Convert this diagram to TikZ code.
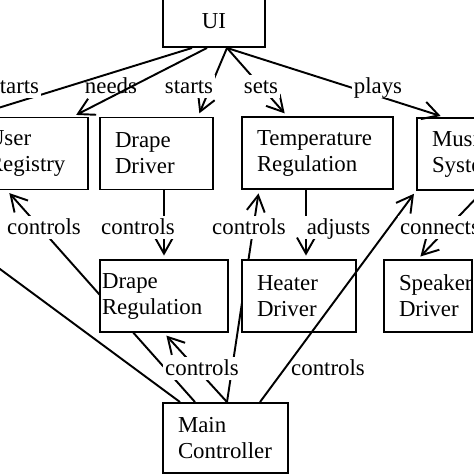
\documentclass[tikz,border=0pt]{standalone}
\usepackage{fontspec}
\setmainfont{Liberation Serif}
\usetikzlibrary{arrows.meta, positioning, calc, backgrounds}

\begin{document}
\begin{tikzpicture}[x=0.02cm, y=-0.02cm,
  every node/.style={font=\fontsize{13}{14.8}\selectfont},
  comp/.style={draw, line width=1.1pt, fill=white, minimum height=1.44cm, inner xsep=0.3cm, align=left},
  lbl/.style={fill=white, anchor=base, inner xsep=1pt, inner ysep=2.8pt, text height=0.75em, text depth=0pt},
  link/.style={line width=1.1pt, -{Straight Barb[length=0.32cm, width=0.36cm]}, shorten >=2pt}]
  \useasboundingbox (0,0) rectangle (474,474);
  \clip (0,0) rectangle (474,474);

  % UI
  \node[draw, line width=1.1pt, fill=white, minimum width=2.04cm, minimum height=1.02cm] (ui) at (214,21.5) {UI};

  % Components
  \node[comp, text width=1.8cm, inner xsep=0.2cm] (usrreg) at (33,153.5) {User\\Registry};
  \node[comp, text width=1.66cm] (drapedrv) at (156.5,153.5) {Drape\\Driver};
  \node[comp, text width=2.42cm] (tempreg) at (317.5,153) {Temperature\\Regulation};
  \node[comp, text width=1.5cm] (music) at (469.5,154) {Music\\System};
  \node[comp, text width=2.48cm, inner xsep=0.04cm] (drapereg) at (164,296) {Drape\\Regulation};
  \node[comp, text width=1.68cm] (heater) at (299,296) {Heater\\Driver};
  \node[comp, text width=1.16cm] (speaker) at (428,296) {Speaker\\Driver};
  \node[comp, text width=1.9cm, minimum height=1.4cm] (mainctl) at (225.5,438) {Main\\Controller};

  % off-screen ends
  \coordinate (offstart) at (-60,126);
  \coordinate (offctl) at (-107,190);

  % Arrows
  \draw[link] ($(ui.south)+(-22,0)$) -- (offstart);
  \draw[link] ($(ui.south)+(-7,0)$) -- ($(usrreg.north)+(40,0)$);
  \draw[link] ($(ui.south)+(13,0)$) -- ($(drapedrv.north)+(41.5,0)$);
  \draw[link] ($(ui.south)+(13,0)$) -- ($(tempreg.north)+(-30.5,0)$);
  \draw[link] ($(ui.south)+(13,0)$) -- ($(music.north)+(-25.5,0)$);
  \draw[link] (drapereg.north |- drapedrv.south) -- (drapereg.north);
  \draw[link] ($(tempreg.south)+(-11.5,0)$) -- ($(heater.north)+(7,0)$);
  \draw[link] ($(music.south)+(13.5,0)$) -- ($(speaker.north)+(-10,0)$);
  \draw[link] ($(mainctl.north)+(-45.5,0)$) -- (offctl);
  \begin{scope}[on background layer]
    \draw[link] ($(mainctl.north)+(-30.5,0)$) -- ($(usrreg.south)+(-26,0)$);
    \draw[link] ($(mainctl.north)+(1.5,0)$) -- ($(tempreg.south)+(-58.5,0)$);
  \end{scope}
  \draw[link] ($(mainctl.north)+(1.5,0)$) -- (drapereg.south);
  \draw[link] ($(mainctl.north)+(34.5,0)$) -- (music.south west);

  % Labels
  \node[lbl] (lstart1) at (15,93) {starts};
  \node[lbl, fill=none] (lneeds) at (111,93) {needs};
  \node[lbl] (lstart2) at (189,93) {starts};
  \node[lbl] (lsets) at (261,93) {sets};
  \node[lbl] (lplays) at (378,93) {plays};
  \node[lbl] (lctl1) at (44,234) {controls};
  \node[lbl] (lctl2) at (138,234) {controls};
  \node[lbl] (lctl3) at (249,234) {controls};
  \node[lbl] (ladjusts) at (338.5,234) {adjusts};
  \node[lbl] (lconnects) at (440,234) {connects};
  \node[lbl] (lctl4) at (202,375) {controls};
  \node[lbl, fill=none] (lctl5) at (328,375) {controls};
\end{tikzpicture}
\end{document}
